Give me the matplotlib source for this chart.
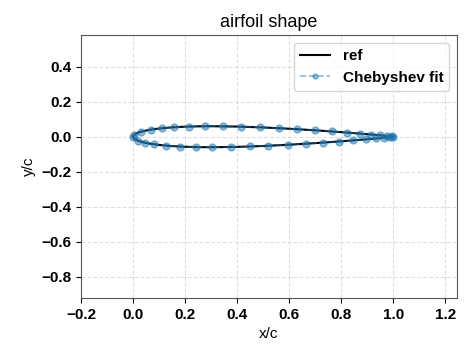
import matplotlib
matplotlib.use("Agg")
import matplotlib.pyplot as plt

plt.rcParams['font.family'] = ['Liberation Sans', 'DejaVu Sans']

# reference airfoil (NACA 0012-like), upper surface then lower surface
ref_x = [1.0, 0.95, 0.9, 0.8, 0.7, 0.6, 0.5, 0.4, 0.3, 0.25, 0.2, 0.15, 0.1, 0.075, 0.05, 0.025, 0.0125, 0.005, 0.0,
         0.005, 0.0125, 0.025, 0.05, 0.075, 0.1, 0.15, 0.2, 0.25, 0.3, 0.4, 0.5, 0.6, 0.7, 0.8, 0.9, 0.95, 1.0]
ref_y = [0.00126, 0.00807, 0.01448, 0.02623, 0.03664, 0.04563, 0.05294, 0.05803, 0.06002, 0.05941, 0.05737,
         0.05345, 0.04683, 0.04200, 0.03555, 0.02615, 0.01894, 0.01230, 0.0,
         -0.01230, -0.01894, -0.02615, -0.03555, -0.04200, -0.04683, -0.05345, -0.05737, -0.05941, -0.06002,
         -0.05803, -0.05294, -0.04563, -0.03664, -0.02623, -0.01448, -0.00807, -0.00126]

# Chebyshev fit points
fit_x = [0.996, 0.978, 0.95, 0.915, 0.873, 0.822, 0.763, 0.70, 0.631, 0.56, 0.488, 0.415, 0.345, 0.278,
         0.215, 0.158, 0.11, 0.068, 0.03, 0.005,
         0.0, 0.018, 0.045, 0.08, 0.125, 0.18, 0.24, 0.305, 0.375, 0.45, 0.52, 0.595, 0.665, 0.73, 0.79,
         0.845, 0.895, 0.935, 0.965, 0.988, 1.0]
fit_y = [0.0018, 0.0043, 0.0081, 0.0126, 0.0178, 0.0237, 0.0301, 0.0366, 0.0431, 0.0487, 0.0536, 0.0577,
         0.0594, 0.0599, 0.0583, 0.0541, 0.0484, 0.0404, 0.0285, 0.0122,
         0.0, -0.0225, -0.0340, -0.0430, -0.0503, -0.0560, -0.0591, -0.0600, -0.0590, -0.0558, -0.0518,
         -0.0460, -0.0398, -0.0333, -0.0273, -0.0210, -0.0150, -0.0100, -0.0060, -0.0028, -0.0013]

fig = plt.figure(figsize=(4.74, 3.55), dpi=100)
ax = fig.add_axes([0.171, 0.161, 0.793, 0.740])

ax.plot(ref_x, ref_y, color='black', lw=1.5, label='ref')
ax.plot(fit_x, fit_y, '--o', color='tab:blue', alpha=0.5, ms=5, lw=1.2, label='Chebyshev fit')

ax.set_xlim(-0.2, 1.245)
ax.set_ylim(-0.92, 0.58)
ax.set_xticks([-0.2, 0.0, 0.2, 0.4, 0.6, 0.8, 1.0, 1.2])
ax.set_yticks([-0.8, -0.6, -0.4, -0.2, 0.0, 0.2, 0.4])
ax.grid(True, linestyle='--', color='#cccccc', alpha=0.6)

for lab in ax.get_xticklabels() + ax.get_yticklabels():
    lab.set_fontweight('bold')
    lab.set_fontsize(11)

ax.set_xlabel('x/c', fontsize=11)
ax.set_ylabel('y/c', fontsize=11)
ax.set_title('airfoil shape', fontsize=13)
ax.legend(loc='upper right', prop={'weight': 'bold', 'size': 11}, markerscale=0.7)

for s in ax.spines.values():
    s.set_color('#555555')

fig.savefig('out.png', dpi=100)
